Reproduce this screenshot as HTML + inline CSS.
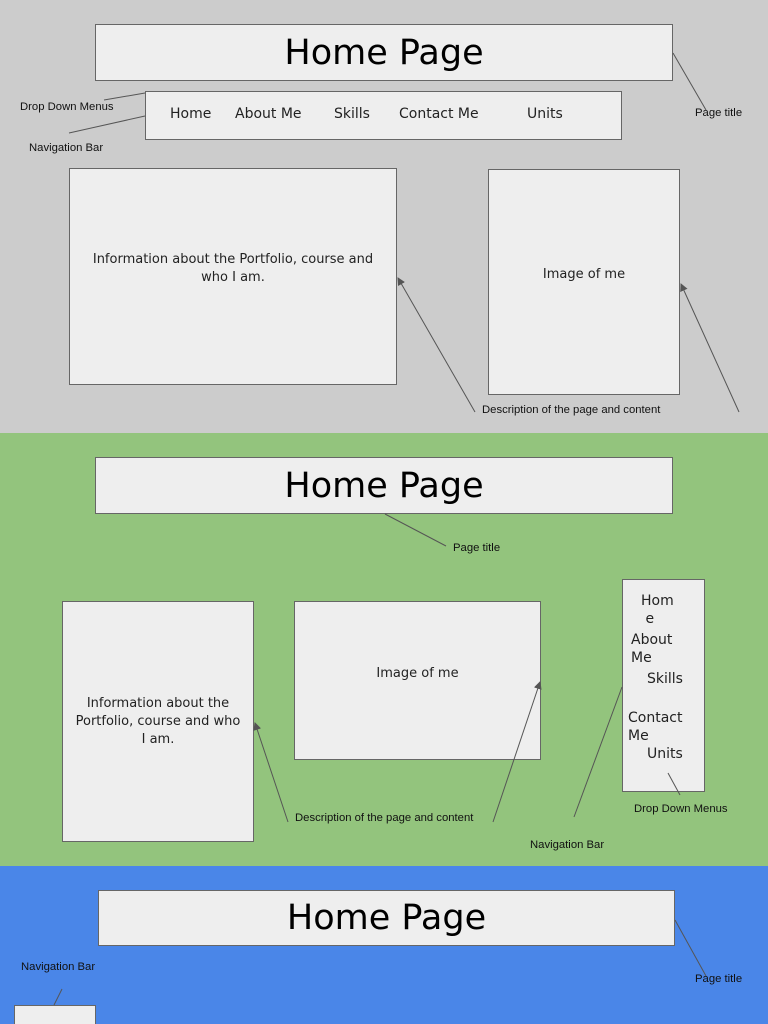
<!DOCTYPE html>
<html><head><meta charset="utf-8"><style>
*{margin:0;padding:0;box-sizing:border-box}
html,body{width:768px;height:1024px;overflow:hidden}
body{position:relative;font-family:"DejaVu Sans","Liberation Sans",sans-serif}
.s{position:absolute;left:0;width:768px}
.b{position:absolute;background:#eeeeee;border:1px solid #666;color:#222}
.c{display:flex;align-items:center;justify-content:center;text-align:center}
.t{font-size:35px;color:#000}
.m{font-size:13px;line-height:18px}
.l{position:absolute;font-family:"Liberation Sans",sans-serif;font-size:11.3px;color:#111;white-space:nowrap}
.n{position:absolute;font-size:14px;color:#222}
svg{position:absolute;left:0;top:0}
</style></head><body>
<div class="s" style="top:0;height:433px;background:#cccccc"></div>
<div class="s" style="top:433px;height:433px;background:#93c47d"></div>
<div class="s" style="top:866px;height:158px;background:#4a86e8"></div>

<!-- section 1 -->
<div class="b c t" style="left:95px;top:24px;width:578px;height:57px">Home Page</div>
<div class="b" style="left:145px;top:91px;width:477px;height:49px"></div>
<div class="n" style="left:170px;top:106px">Home</div>
<div class="n" style="left:235px;top:106px">About Me</div>
<div class="n" style="left:334px;top:106px">Skills</div>
<div class="n" style="left:399px;top:106px">Contact Me</div>
<div class="n" style="left:527px;top:106px">Units</div>
<div class="b c m" style="left:69px;top:168px;width:328px;height:217px;padding:0 14px 16px">Information about the Portfolio, course and who I am.</div>
<div class="b c m" style="left:488px;top:169px;width:192px;height:226px;padding-bottom:14px">Image of me</div>
<div class="l" style="left:20px;top:101px">Drop Down Menus</div>
<div class="l" style="left:29px;top:142px">Navigation Bar</div>
<div class="l" style="left:695px;top:107px">Page title</div>
<div class="l" style="left:482px;top:404px">Description of the page and content</div>

<!-- section 2 -->
<div class="b c t" style="left:95px;top:457px;width:578px;height:57px">Home Page</div>
<div class="b c m" style="left:62px;top:601px;width:192px;height:241px;padding:0 10px">Information about the Portfolio, course and who I am.</div>
<div class="b c m" style="left:294px;top:601px;width:247px;height:159px;padding:0 0 14px 0">Image of me</div>
<div class="b" style="left:622px;top:579px;width:83px;height:213px"></div>
<div class="n" style="left:641px;top:592px;line-height:18px">Hom<br>&nbsp;e</div>
<div class="n" style="left:631px;top:631px;line-height:18px">About<br>Me</div>
<div class="n" style="left:647px;top:671px">Skills</div>
<div class="n" style="left:628px;top:709px;line-height:18px">Contact<br>Me</div>
<div class="n" style="left:647px;top:746px">Units</div>
<div class="l" style="left:453px;top:542px">Page title</div>
<div class="l" style="left:295px;top:812px">Description of the page and content</div>
<div class="l" style="left:634px;top:803px">Drop Down Menus</div>
<div class="l" style="left:530px;top:839px">Navigation Bar</div>

<!-- section 3 -->
<div class="b c t" style="left:98px;top:890px;width:577px;height:56px">Home Page</div>
<div class="b" style="left:14px;top:1005px;width:82px;height:25px"></div>
<div class="l" style="left:21px;top:961px">Navigation Bar</div>
<div class="l" style="left:695px;top:973px">Page title</div>

<svg width="768" height="1024" stroke="#555" stroke-width="1" fill="none">
<defs><marker id="a" markerWidth="8" markerHeight="8" refX="7" refY="4" orient="auto"><path d="M0,0 L8,4 L0,8 z" fill="#555" stroke="none"/></marker></defs>
<line x1="104" y1="100" x2="145" y2="93"/>
<line x1="69" y1="133" x2="145" y2="116"/>
<line x1="673" y1="53" x2="706" y2="110"/>
<line x1="475" y1="412" x2="398" y2="278" marker-end="url(#a)"/>
<line x1="739" y1="412" x2="681" y2="284" marker-end="url(#a)"/>
<line x1="385" y1="514" x2="446" y2="546"/>
<line x1="288" y1="822" x2="255" y2="723" marker-end="url(#a)"/>
<line x1="493" y1="822" x2="540" y2="682" marker-end="url(#a)"/>
<line x1="574" y1="817" x2="622" y2="687"/>
<line x1="668" y1="773" x2="680" y2="795"/>
<line x1="675" y1="920" x2="706" y2="976"/>
<line x1="62" y1="989" x2="54" y2="1005"/>
</svg>
</body></html>
